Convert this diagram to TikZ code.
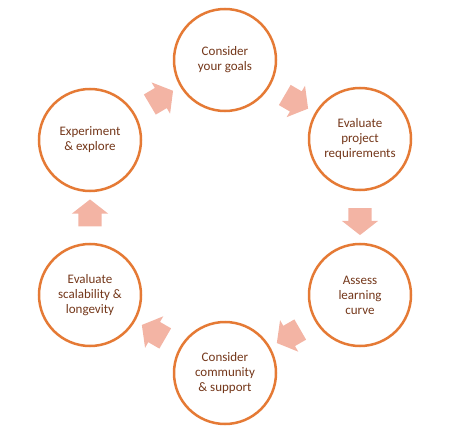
\documentclass[tikz,border=0pt]{standalone}
\usepackage{fontspec}
\setmainfont{Carlito}
\usetikzlibrary{shapes.arrows}
\definecolor{ringorange}{HTML}{E57A35}
\definecolor{arrowpink}{HTML}{F3B4A4}
\definecolor{textbrown}{HTML}{74371A}
\tikzset{
  stepcircle/.style={circle, draw=ringorange, line width=2.5pt, fill=white,
    minimum size=102pt, inner sep=0pt, align=center, text=textbrown,
    font=\fontsize{13}{15}\selectfont},
  blockarrow/.style={single arrow, fill=arrowpink, draw=none,
    inner xsep=0pt, inner ysep=11.5pt,
    minimum width=36pt, minimum height=27pt, single arrow head extend=6.5pt,
    single arrow tip angle=104, sloped, allow upside down}
}
\begin{document}
\begin{tikzpicture}[x=1pt,y=-1pt]
\useasboundingbox (0,0) rectangle (474,433);
\node[stepcircle] (goals) at (225,60) {Consider\\your goals};
\node[stepcircle] (req) at (360,139) {Evaluate\\project\\requirements};
\node[stepcircle] (curve) at (360,295) {Assess\\learning\\curve};
\node[stepcircle] (comm) at (225,373) {Consider\\community\\\& support};
\node[stepcircle] (scal) at (90,295) {Evaluate\\scalability \&\\longevity};
\node[stepcircle] (exp) at (90,140) {Experiment\\\& explore};
\path (goals) -- node[blockarrow] (a1) {} (req);
\path (req) -- node[blockarrow] (a2) {} (curve);
\path (curve) -- node[blockarrow] (a3) {} (comm);
\path (comm) -- node[blockarrow] (a4) {} (scal);
\path (scal) -- node[blockarrow] (a5) {} (exp);
\path (exp) -- node[blockarrow] (a6) {} (goals);
\end{tikzpicture}
\end{document}
